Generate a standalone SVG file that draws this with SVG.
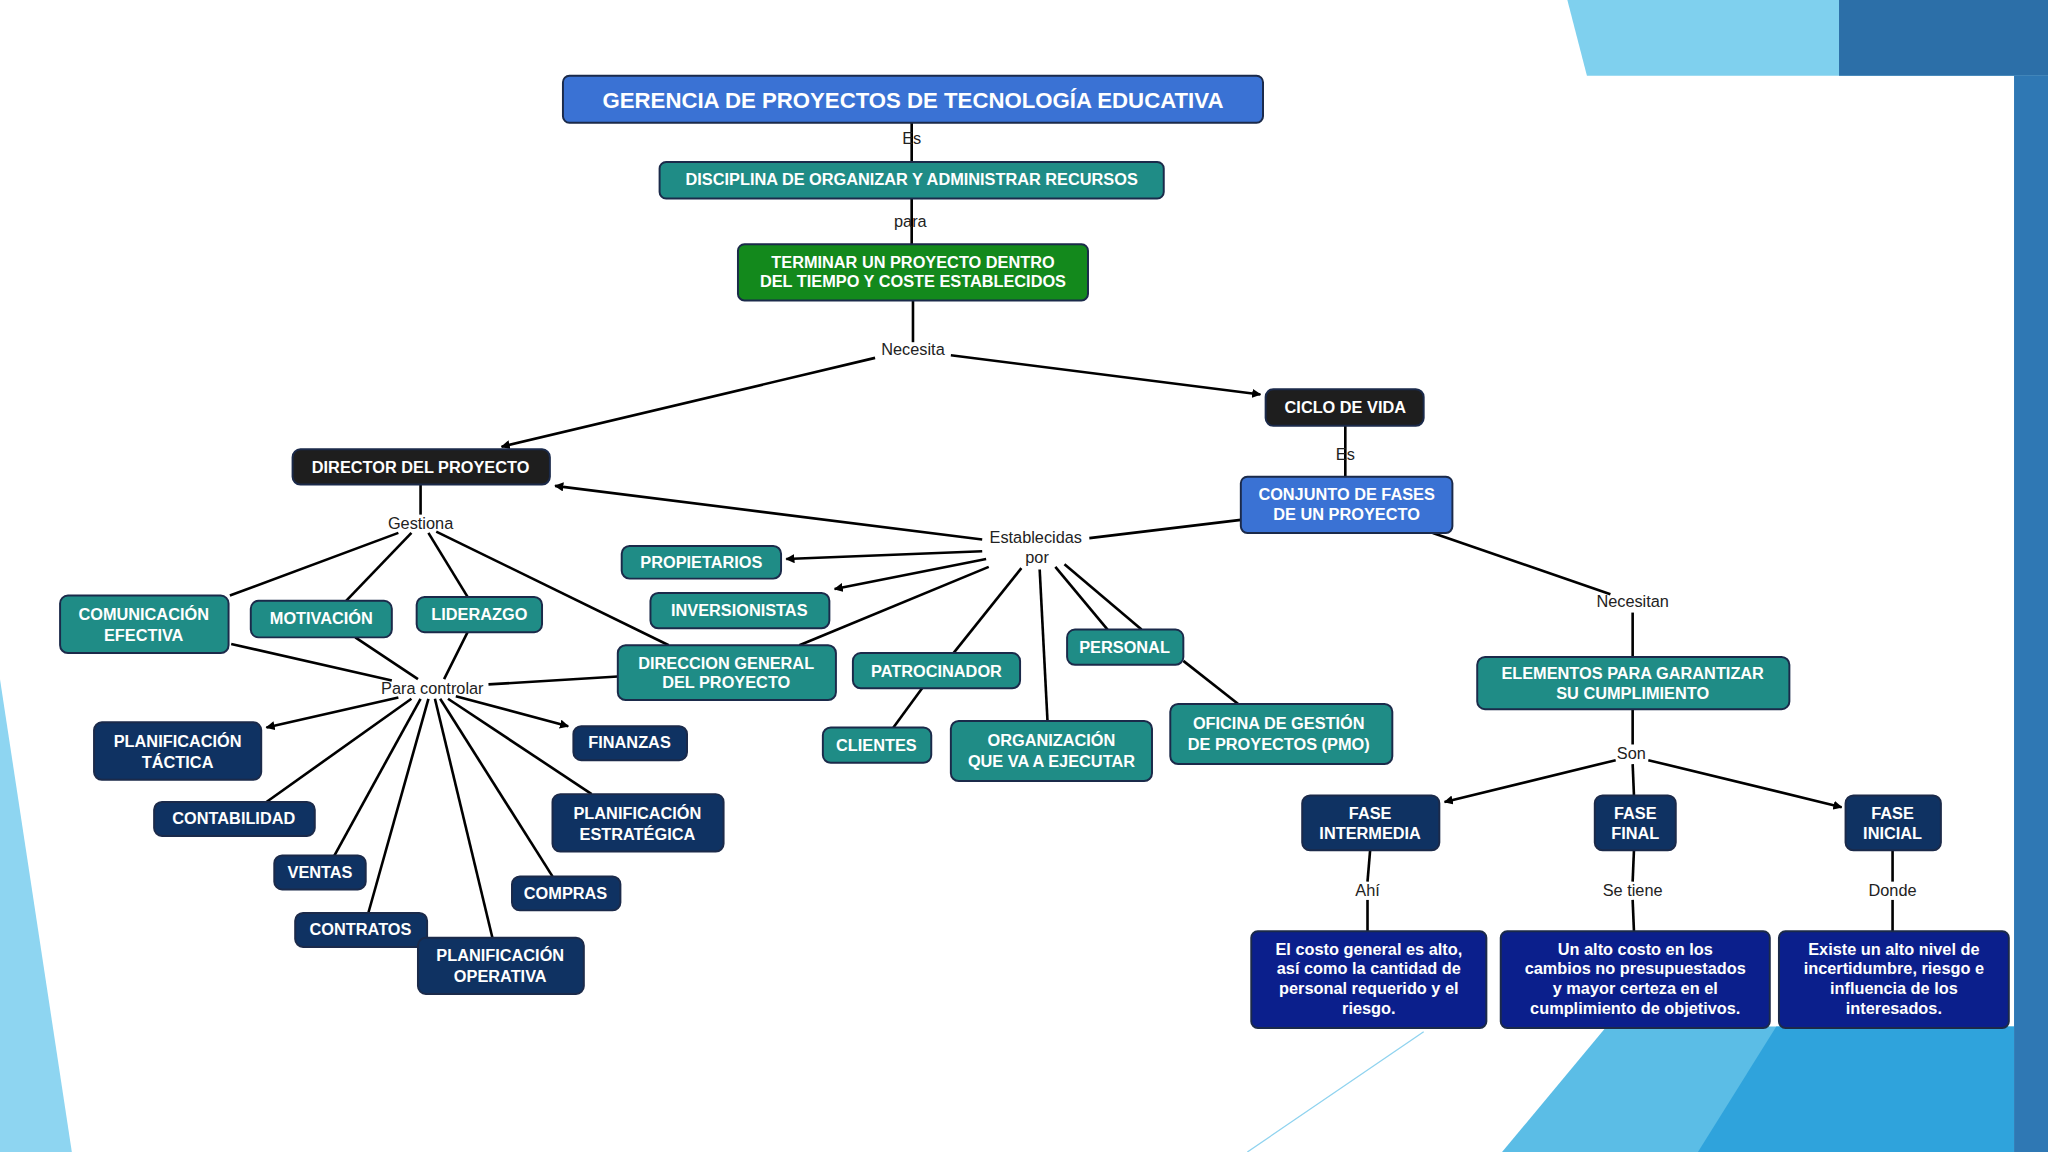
<svg xmlns="http://www.w3.org/2000/svg" width="2048" height="1152" viewBox="0 0 2048 1152">
<defs>
<marker id="ah" viewBox="0 0 10 10" refX="9" refY="5" markerWidth="7" markerHeight="7" orient="auto" markerUnits="userSpaceOnUse"><path d="M0,0L10,5L0,10z" fill="#000"/></marker>
<style>
.b rect{stroke:#1b2a4a;stroke-width:1.5}
.bl rect{fill:#3a72d4}.te rect{fill:#1f8c86}.gr rect{fill:#13891c}.bk rect{fill:#1e1e1e}.nv rect{fill:#0f3262}.db rect{fill:#0b1f8c}
.b text{font-family:"Liberation Sans",Arial,sans-serif;font-weight:bold;font-size:12.5px;fill:#fff;text-anchor:middle}
.l{font-family:"Liberation Sans",Arial,sans-serif;font-size:12.5px;fill:#222;text-anchor:middle}
#conn line,#conn path{stroke:#000;stroke-width:2;fill:none}
.a{marker-end:url(#ah)}
</style>
</defs>
<g transform="scale(1.30612)">
<rect x="0" y="0" width="1568" height="882" fill="#fff"/>
<polygon points="1200,0 1568,0 1568,58 1215,58" fill="#7fd0ee"/>
<polygon points="1408,0 1568,0 1568,58 1408,58" fill="#2c6fa8"/>
<polygon points="1542,58 1568,58 1568,882 1542,882" fill="#2f78b4"/>
<polygon points="1150,882 1230,786 1542,786 1542,882" fill="#5bbde6"/>
<polygon points="1300,882 1360,786 1542,786 1542,882" fill="#2fa3dc"/>
<line x1="955" y1="882" x2="1090" y2="790" stroke="#8fd3ef" stroke-width="1"/>
<polygon points="0,520 55,882 0,882" fill="#8ed5f1"/>
<g id="conn">
<line x1="698" y1="94" x2="698" y2="124"/>
<line x1="698" y1="152" x2="698" y2="187"/>
<line x1="699" y1="230" x2="699" y2="262"/>
<line x1="670" y1="274" x2="384" y2="342" class="a"/>
<line x1="728" y1="272" x2="965" y2="302" class="a"/>
<line x1="1030" y1="326" x2="1030" y2="365"/>
<line x1="322" y1="371" x2="322" y2="394"/>
<line x1="752" y1="413" x2="425" y2="372" class="a"/>
<line x1="834" y1="412" x2="950" y2="398"/>
<line x1="752" y1="422" x2="602" y2="428" class="a"/>
<line x1="755" y1="428" x2="639" y2="451" class="a"/>
<line x1="757" y1="434" x2="612" y2="494"/>
<line x1="782" y1="435" x2="730" y2="500"/>
<line x1="796" y1="436" x2="802" y2="552"/>
<line x1="808" y1="434" x2="848" y2="482"/>
<line x1="815" y1="432" x2="874" y2="482"/>
<line x1="906" y1="506" x2="948" y2="539"/>
<line x1="706" y1="527" x2="684" y2="557"/>
<line x1="1097" y1="408" x2="1233" y2="455"/>
<line x1="1250" y1="469" x2="1250" y2="503"/>
<line x1="1250" y1="543" x2="1250" y2="570"/>
<line x1="1237" y1="582" x2="1106" y2="614" class="a"/>
<line x1="1262" y1="582" x2="1410" y2="618" class="a"/>
<line x1="1250" y1="585" x2="1251" y2="609"/>
<line x1="1049" y1="651" x2="1047" y2="675"/><line x1="1047" y1="689" x2="1047" y2="713"/>
<line x1="1251" y1="651" x2="1250" y2="675"/><line x1="1250" y1="689" x2="1251" y2="713"/>
<line x1="1449" y1="651" x2="1449" y2="675"/><line x1="1449" y1="689" x2="1449" y2="713"/>
<line x1="305" y1="408" x2="176" y2="456"/>
<line x1="315" y1="408" x2="265" y2="460"/>
<line x1="328" y1="408" x2="358" y2="457"/>
<line x1="334" y1="407" x2="512" y2="494"/>
<line x1="177" y1="493" x2="300" y2="521"/>
<line x1="272" y1="488" x2="320" y2="520"/>
<line x1="358" y1="484" x2="340" y2="520"/>
<line x1="374" y1="524" x2="473" y2="518"/>
<line x1="305" y1="534" x2="204" y2="557" class="a"/>
<line x1="349" y1="533" x2="435" y2="556" class="a"/>
<line x1="315" y1="535" x2="204" y2="614"/>
<line x1="322" y1="535" x2="256" y2="655"/>
<line x1="328" y1="535" x2="282" y2="699"/>
<line x1="333" y1="535" x2="377" y2="718"/>
<line x1="337" y1="535" x2="423" y2="671"/>
<line x1="343" y1="535" x2="453" y2="608"/>
</g>
<g class="l">
<text x="698" y="110">Es</text><text x="697" y="174">para</text><text x="699" y="272">Necesita</text>
<text x="1030" y="352">Es</text><text x="322" y="405">Gestiona</text>
<text x="793" y="416">Establecidas</text><text x="794" y="431">por</text>
<text x="1250" y="465">Necesitan</text><text x="331" y="531">Para controlar</text>
<text x="1249" y="581">Son</text><text x="1047" y="686">Ahí</text><text x="1250" y="686">Se tiene</text><text x="1449" y="686">Donde</text>
</g>
<g id="n-title" class="b bl"><rect x="431" y="58" width="536" height="36" rx="5"/><text x="699" y="83" style="font-size:17px">GERENCIA DE PROYECTOS DE TECNOLOGÍA EDUCATIVA</text></g>
<g id="n-disc" class="b te"><rect x="505" y="124" width="386" height="28" rx="5"/><text x="698" y="142">DISCIPLINA DE ORGANIZAR Y ADMINISTRAR RECURSOS</text></g>
<g id="n-term" class="b gr"><rect x="565" y="187" width="268" height="43" rx="5"/><text x="699" y="205">TERMINAR UN PROYECTO DENTRO</text><text x="699" y="220">DEL TIEMPO Y COSTE ESTABLECIDOS</text></g>
<g id="n-ciclo" class="b bk"><rect x="969" y="298" width="121" height="28" rx="6"/><text x="1030" y="316">CICLO DE VIDA</text></g>
<g id="n-dir" class="b bk"><rect x="224" y="344" width="197" height="27" rx="6"/><text x="322" y="362">DIRECTOR DEL PROYECTO</text></g>
<g id="n-conj" class="b bl"><rect x="950" y="365" width="162" height="43" rx="5"/><text x="1031" y="383">CONJUNTO DE FASES</text><text x="1031" y="398">DE UN PROYECTO</text></g>
<g id="n-prop" class="b te"><rect x="476" y="418" width="122" height="25" rx="6"/><text x="537" y="435">PROPIETARIOS</text></g>
<g id="n-inv" class="b te"><rect x="498" y="454" width="137" height="27" rx="6"/><text x="566" y="472">INVERSIONISTAS</text></g>
<g id="n-com" class="b te"><rect x="46" y="456" width="129" height="44" rx="6"/><text x="110" y="475">COMUNICACIÓN</text><text x="110" y="491">EFECTIVA</text></g>
<g id="n-mot" class="b te"><rect x="192" y="460" width="108" height="28" rx="6"/><text x="246" y="478">MOTIVACIÓN</text></g>
<g id="n-lid" class="b te"><rect x="319" y="457" width="96" height="27" rx="6"/><text x="367" y="475">LIDERAZGO</text></g>
<g id="n-dg" class="b te"><rect x="473" y="494" width="167" height="42" rx="6"/><text x="556" y="512">DIRECCION GENERAL</text><text x="556" y="527">DEL PROYECTO</text></g>
<g id="n-pat" class="b te"><rect x="653" y="500" width="128" height="27" rx="6"/><text x="717" y="518">PATROCINADOR</text></g>
<g id="n-per" class="b te"><rect x="817" y="482" width="89" height="27" rx="6"/><text x="861" y="500">PERSONAL</text></g>
<g id="n-cli" class="b te"><rect x="630" y="557" width="83" height="27" rx="6"/><text x="671" y="575">CLIENTES</text></g>
<g id="n-org" class="b te"><rect x="728" y="552" width="154" height="46" rx="6"/><text x="805" y="571">ORGANIZACIÓN</text><text x="805" y="587">QUE VA A EJECUTAR</text></g>
<g id="n-pmo" class="b te"><rect x="896" y="539" width="170" height="46" rx="6"/><text x="979" y="558">OFICINA DE GESTIÓN</text><text x="979" y="574">DE PROYECTOS (PMO)</text></g>
<g id="n-elem" class="b te"><rect x="1131" y="503" width="239" height="40" rx="6"/><text x="1250" y="520">ELEMENTOS PARA GARANTIZAR</text><text x="1250" y="535">SU CUMPLIMIENTO</text></g>
<g id="n-pt" class="b nv"><rect x="72" y="553" width="128" height="44" rx="6"/><text x="136" y="572">PLANIFICACIÓN</text><text x="136" y="588">TÁCTICA</text></g>
<g id="n-fin" class="b nv"><rect x="439" y="556" width="87" height="26" rx="6"/><text x="482" y="573">FINANZAS</text></g>
<g id="n-cont" class="b nv"><rect x="118" y="614" width="123" height="26" rx="6"/><text x="179" y="631">CONTABILIDAD</text></g>
<g id="n-pe" class="b nv"><rect x="423" y="608" width="131" height="44" rx="6"/><text x="488" y="627">PLANIFICACIÓN</text><text x="488" y="643">ESTRATÉGICA</text></g>
<g id="n-ven" class="b nv"><rect x="210" y="655" width="70" height="26" rx="6"/><text x="245" y="672">VENTAS</text></g>
<g id="n-comp" class="b nv"><rect x="392" y="671" width="83" height="26" rx="6"/><text x="433" y="688">COMPRAS</text></g>
<g id="n-contr" class="b nv"><rect x="226" y="699" width="101" height="26" rx="6"/><text x="276" y="716">CONTRATOS</text></g>
<g id="n-po" class="b nv"><rect x="320" y="718" width="127" height="43" rx="6"/><text x="383" y="736">PLANIFICACIÓN</text><text x="383" y="752">OPERATIVA</text></g>
<g id="n-fi" class="b nv"><rect x="997" y="609" width="105" height="42" rx="6"/><text x="1049" y="627">FASE</text><text x="1049" y="642">INTERMEDIA</text></g>
<g id="n-ff" class="b nv"><rect x="1221" y="609" width="62" height="42" rx="6"/><text x="1252" y="627">FASE</text><text x="1252" y="642">FINAL</text></g>
<g id="n-fin2" class="b nv"><rect x="1413" y="609" width="73" height="42" rx="6"/><text x="1449" y="627">FASE</text><text x="1449" y="642">INICIAL</text></g>
<g id="n-d1" class="b db"><rect x="958" y="713" width="180" height="74" rx="5"/><text x="1048" y="731">El costo general es alto,</text><text x="1048" y="746">así como la cantidad de</text><text x="1048" y="761">personal requerido y el</text><text x="1048" y="776">riesgo.</text></g>
<g id="n-d2" class="b db"><rect x="1149" y="713" width="206" height="74" rx="5"/><text x="1252" y="731">Un alto costo en los</text><text x="1252" y="746">cambios no presupuestados</text><text x="1252" y="761">y mayor certeza en el</text><text x="1252" y="776">cumplimiento de objetivos.</text></g>
<g id="n-d3" class="b db"><rect x="1362" y="713" width="176" height="74" rx="5"/><text x="1450" y="731">Existe un alto nivel de</text><text x="1450" y="746">incertidumbre, riesgo e</text><text x="1450" y="761">influencia de los</text><text x="1450" y="776">interesados.</text></g>
</g>
</svg>
